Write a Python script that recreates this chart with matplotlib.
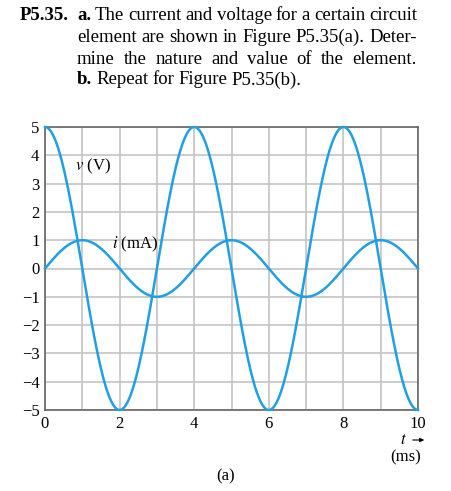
import numpy as np
import matplotlib
matplotlib.use("Agg")
import matplotlib.pyplot as plt

plt.rcParams['font.family'] = ['Liberation Serif', 'DejaVu Serif']
plt.rcParams['mathtext.fontset'] = 'stix'

# waveform parameters
period_ms = 4.0          # both signals repeat every 4 ms
v_amp = 5.0              # volts, peak at t = 0
v_phase_deg = 0.0
i_amp = 1.0              # mA, peak at t = 1 ms
i_phase_deg = -90.0
t_start, t_end = 0.0, 10.0

x_ticks = [0, 2, 4, 6, 8, 10]
y_ticks = [-5, -4, -3, -2, -1, 0, 1, 2, 3, 4, 5]
y_labels = ['\u22125', '\u22124', '\u22123', '\u22122', '\u22121', '0', '1', '2', '3', '4', '5']

# problem statement, one list of (word, bold) per line
statement = [
    [('a.', True), ('The', False), ('current', False), ('and', False), ('voltage', False),
     ('for', False), ('a', False), ('certain', False), ('circuit', False)],
    [('element', False), ('are', False), ('shown', False), ('in', False), ('Figure', False),
     ('P5.35(a).', False), ('Deter-', False)],
    [('mine', False), ('the', False), ('nature', False), ('and', False), ('value', False),
     ('of', False), ('the', False), ('element.', False)],
    [('b.', True), ('Repeat', False), ('for', False), ('Figure', False), ('P5.35(b).', False)],
]
justify = [True, True, True, False]

t = np.linspace(t_start, t_end, 1001)
w = 2 * np.pi / period_ms
v = v_amp * np.cos(w * t + np.deg2rad(v_phase_deg))
i = i_amp * np.cos(w * t + np.deg2rad(i_phase_deg))

blue = '#1f9fe6'
W, H = 452, 491

fig = plt.figure(figsize=(W / 100, H / 100), dpi=100)
ax = fig.add_axes([45 / W, 81 / H, 373 / W, 283 / H])

ax.plot(t, v, color=blue, lw=1.8, clip_on=False, zorder=3)
ax.plot(t, i, color=blue, lw=1.8, clip_on=False, zorder=3)

ax.set_xlim(0, 10)
ax.set_ylim(-5, 5)
ax.set_xticks(x_ticks)
ax.set_xticks(np.arange(1, 10, 2), minor=True)
ax.set_yticks(y_ticks)
ax.set_yticklabels(y_labels)
ax.grid(True, which='both', color='#c4c4c4', lw=1.2)
ax.set_axisbelow(True)
ax.tick_params(which='both', length=0, labelsize=12, pad=4)
for s in ax.spines.values():
    s.set_color('#666666')
    s.set_linewidth(1.2)

ax.text(0.8, 3.6, r'$v$ (V)', fontsize=12, va='center')
ax.text(1.8, 0.85, r'$i$ (mA)', fontsize=12, va='center')

# axis label under the right end
fig.text(403 / W, 1 - 440 / H, r'$t$', fontsize=12, ha='center', va='center')
fig.text(406 / W, 1 - 457 / H, '(ms)', fontsize=12, ha='center', va='center')
ax.annotate('', xy=(427 / W, 1 - 440 / H), xytext=(410 / W, 1 - 440 / H),
            xycoords='figure fraction',
            arrowprops=dict(arrowstyle='-|>', lw=0.8, color='black', mutation_scale=6))
fig.text(226 / W, 1 - 476 / H, '(a)', fontsize=12, ha='center', va='center')

# problem statement, justified between x0 and x1
fs = 13.5
x0, x1 = 77, 417
line_y = [15, 37, 59, 80]
fig.text(20 / W, 1 - line_y[0] / H, 'P5.35.', fontsize=fs, weight='bold', va='center')
renderer = fig.canvas.get_renderer()
for words, yy, just in zip(statement, line_y, justify):
    arts = [fig.text(0, 1 - yy / H, wd, fontsize=fs, va='center',
                     weight='bold' if b else 'normal') for wd, b in words]
    widths = [a.get_window_extent(renderer).width for a in arts]
    space = (x1 - x0 - sum(widths)) / (len(words) - 1) if just else 4.0
    x = x0
    for a, wd in zip(arts, widths):
        a.set_x(x / W)
        x += wd + space

fig.savefig('out.png', dpi=100)
